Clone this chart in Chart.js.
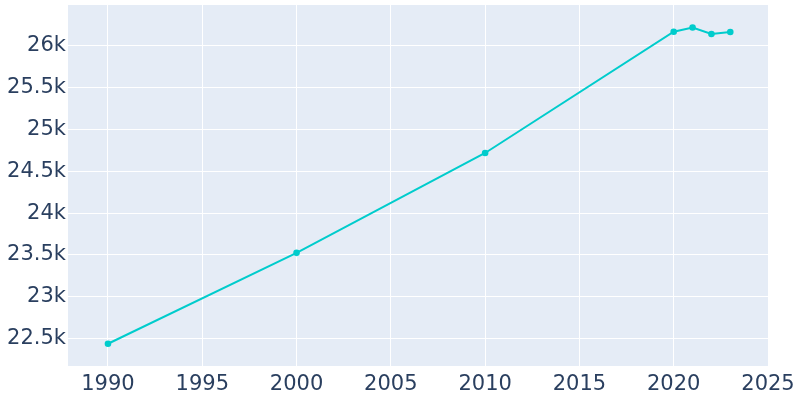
<!DOCTYPE html>
<html lang="en">
<head>
    <meta charset="UTF-8">
    <title>Population</title>
    <script src="https://cdn.jsdelivr.net/npm/chart.js"></script>
    <style>
        body {
            margin: 0;
            background-color: #ffffff;
        }
        .chart-container {
            width: 800px;
            height: 400px;
        }
    </style>
</head>
<body>
    <div class="chart-container">
        <canvas id="popChart"></canvas>
    </div>

    <script>
        // values
        const years = [1990, 2000, 2010, 2020, 2021, 2022, 2023];
        const population = [22436, 23524, 24719, 26170, 26221, 26143, 26167];
        const xTicks = [1990, 1995, 2000, 2005, 2010, 2015, 2020, 2025];
        const yTicks = [22500, 23000, 23500, 24000, 24500, 25000, 25500, 26000];

        const tickFont = { family: 'DejaVu Sans', size: 21 };
        const tickColor = '#2a3f5f';

        // plot-area background like the plotly style
        const plotBg = {
            id: 'plotBg',
            beforeDraw(chart) {
                const { ctx, chartArea: a } = chart;
                ctx.save();
                ctx.fillStyle = '#e5ecf6';
                ctx.fillRect(a.left, a.top, a.right - a.left, a.bottom - a.top);
                ctx.restore();
            }
        };

        new Chart(document.getElementById('popChart').getContext('2d'), {
            type: 'line',
            data: {
                datasets: [{
                    data: years.map((y, i) => ({ x: y, y: population[i] })),
                    borderColor: '#00cccc',
                    backgroundColor: '#00cccc',
                    borderWidth: 2,
                    pointRadius: 2.3,
                    pointHoverRadius: 3,
                    fill: false,
                    tension: 0
                }]
            },
            options: {
                responsive: true,
                maintainAspectRatio: false,
                animation: false,
                layout: { padding: { top: 1, right: 32, left: 0, bottom: 0 } },
                plugins: {
                    legend: { display: false },
                    tooltip: { enabled: false }
                },
                scales: {
                    x: {
                        type: 'linear',
                        min: 1987.88,
                        max: 2025,
                        afterBuildTicks: (scale) => {
                            scale.ticks = xTicks.map(v => ({ value: v }));
                        },
                        afterFit: (scale) => {
                            scale.height = 34;
                            scale.paddingLeft = 0;
                            scale.paddingRight = 0;
                        },
                        grid: { color: '#ffffff', lineWidth: 1, drawTicks: false },
                        border: { display: false },
                        ticks: {
                            color: tickColor,
                            font: tickFont,
                            padding: 6,
                            maxRotation: 0,
                            autoSkip: false,
                            callback: (v) => String(v)
                        }
                    },
                    y: {
                        min: 22170,
                        max: 26490,
                        afterBuildTicks: (scale) => {
                            scale.ticks = yTicks.map(v => ({ value: v }));
                        },
                        afterFit: (scale) => {
                            scale.width = 68;
                            scale.paddingTop = 0;
                            scale.paddingBottom = 0;
                        },
                        grid: { color: '#ffffff', lineWidth: 1, drawTicks: false },
                        border: { display: false },
                        ticks: {
                            color: tickColor,
                            font: tickFont,
                            padding: 2,
                            autoSkip: false,
                            callback: (v) => (v / 1000) + 'k'
                        }
                    }
                }
            },
            plugins: [plotBg]
        });
    </script>
</body>
</html>
